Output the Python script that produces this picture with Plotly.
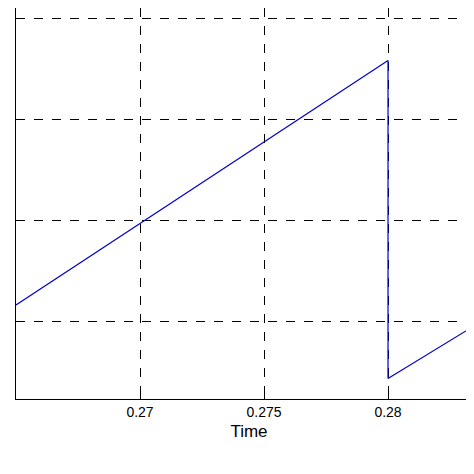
import plotly.graph_objects as go

time = [0.265, 0.28, 0.28, 0.28379]
signal = [1.16, 3.58, 0.43, 1.0]
xticks = [0.265, 0.27, 0.275, 0.28]
xticklabels = ["0.265", "0.27", "0.275", "0.28"]

fig = go.Figure(go.Scatter(x=time, y=signal, mode="lines", cliponaxis=False,
                           line=dict(color="#0000cc", width=1.2)))
fig.update_layout(
    width=474, height=474, paper_bgcolor="white", plot_bgcolor="white",
    margin=dict(l=8, r=0, t=0, b=83, autoexpand=False), showlegend=False,
    font=dict(family="Liberation Sans, Arial", size=14, color="black"),
)
fig.update_xaxes(range=[0.265, 0.28379], tickvals=xticks, ticktext=xticklabels,
                 automargin=False,
                 showgrid=True, gridcolor="black", griddash="dash", gridwidth=1,
                 showline=True, linecolor="black", linewidth=1, mirror=True,
                 ticks="inside", ticklen=5, tickcolor="black", zeroline=False,
                 title=dict(text="Time", standoff=6))
fig.update_yaxes(range=[0.228, 4.1], tickvals=[1, 2, 3, 4], showticklabels=False,
                 automargin=False,
                 showgrid=True, gridcolor="black", griddash="dash", gridwidth=1,
                 showline=True, linecolor="black", linewidth=1, mirror=True,
                 ticks="inside", ticklen=5, tickcolor="black", zeroline=False)
fig.write_html("out.html")
